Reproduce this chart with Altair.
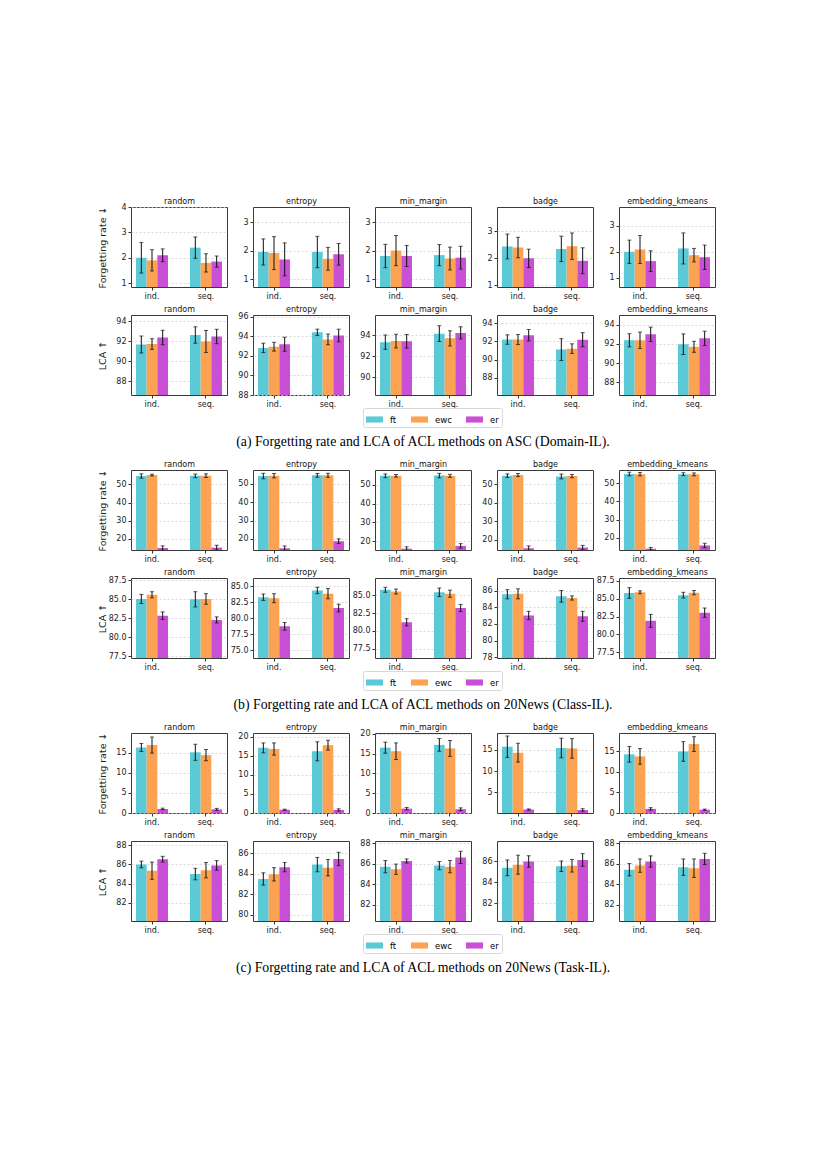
import altair as alt
import pandas as pd

strategies = ["random", "entropy", "min_margin", "badge", "embedding_kmeans"]
conditions = ["ind.", "seq."]
methods = ["ft", "ewc", "er"]
colors = ["#5CC9D6", "#FBA352", "#C94FD6"]

captions = [
    "(a) Forgetting rate and LCA of ACL methods on ASC (Domain-IL).",
    "(b) Forgetting rate and LCA of ACL methods on 20News (Class-IL).",
    "(c) Forgetting rate and LCA of ACL methods on 20News (Task-IL).",
]
row_titles = ["Forgetting rate \u2193", "LCA \u2191"]

# each row: [ind ft, ind ewc, ind er, seq ft, seq ewc, seq er]
asc_fr_mean = [
    [2.00, 1.90, 2.10, 2.40, 1.80, 1.85],
    [1.95, 1.91, 1.69, 1.95, 1.71, 1.87],
    [1.81, 2.00, 1.81, 1.84, 1.72, 1.75],
    [2.44, 2.40, 2.00, 2.35, 2.45, 1.91],
    [2.00, 2.09, 1.64, 2.13, 1.87, 1.79],
]
asc_fr_err = [
    [0.60, 0.42, 0.25, 0.42, 0.36, 0.22],
    [0.46, 0.58, 0.58, 0.55, 0.40, 0.38],
    [0.41, 0.53, 0.37, 0.37, 0.40, 0.40],
    [0.46, 0.38, 0.34, 0.47, 0.49, 0.48],
    [0.45, 0.54, 0.40, 0.60, 0.26, 0.47],
]
asc_lca_mean = [
    [91.65, 91.70, 92.35, 92.60, 91.95, 92.45],
    [92.83, 92.95, 93.20, 94.42, 93.70, 94.10],
    [93.32, 93.42, 93.40, 94.13, 93.68, 94.20],
    [92.20, 92.20, 92.68, 91.10, 91.20, 92.18],
    [92.38, 92.38, 93.00, 91.97, 91.70, 92.58],
]
asc_lca_err = [
    [0.85, 0.53, 0.72, 0.82, 1.10, 0.72],
    [0.48, 0.45, 0.72, 0.33, 0.55, 0.65],
    [0.68, 0.65, 0.65, 0.75, 0.72, 0.58],
    [0.52, 0.55, 0.63, 1.20, 0.53, 0.78],
    [0.68, 0.85, 0.74, 1.07, 0.57, 0.74],
]
cil_fr_mean = [
    [54.6, 55.1, 15.0, 54.7, 54.8, 15.2],
    [54.3, 54.5, 15.0, 54.7, 54.7, 18.8],
    [54.9, 54.9, 16.0, 55.0, 54.9, 17.5],
    [54.7, 55.1, 15.5, 54.3, 54.5, 15.8],
    [55.0, 54.9, 14.0, 54.9, 54.8, 15.8],
]
cil_fr_err = [
    [1.2, 0.5, 1.2, 1.0, 1.0, 1.3],
    [1.5, 1.2, 1.2, 1.0, 1.1, 1.3],
    [1.0, 0.7, 1.0, 1.2, 0.8, 1.2],
    [1.0, 0.8, 1.2, 1.3, 0.9, 1.2],
    [1.0, 0.9, 0.7, 0.8, 0.8, 1.2],
]
cil_lca_mean = [
    [85.05, 85.60, 82.85, 85.00, 85.05, 82.30],
    [83.30, 83.15, 78.75, 84.35, 83.85, 81.60],
    [85.75, 85.50, 81.20, 85.40, 85.20, 83.20],
    [85.55, 85.60, 83.00, 85.30, 85.10, 82.90],
    [85.80, 85.90, 81.90, 85.50, 85.85, 83.05],
]
cil_lca_err = [
    [0.60, 0.40, 0.50, 1.00, 0.70, 0.40],
    [0.50, 0.70, 0.60, 0.50, 0.80, 0.60],
    [0.35, 0.35, 0.50, 0.60, 0.50, 0.50],
    [0.55, 0.60, 0.50, 0.70, 0.25, 0.60],
    [0.75, 0.20, 0.90, 0.40, 0.30, 0.65],
]
til_fr_mean = [
    [16.3, 16.9, 1.00, 15.1, 14.4, 0.90],
    [17.1, 16.8, 0.85, 16.2, 17.8, 0.80],
    [16.5, 15.6, 1.10, 17.2, 16.3, 0.95],
    [15.7, 14.3, 1.00, 15.4, 15.3, 0.90],
    [14.3, 13.8, 1.00, 15.0, 16.8, 0.80],
]
til_fr_err = [
    [1.0, 2.0, 0.20, 2.0, 1.4, 0.25],
    [1.3, 1.6, 0.15, 2.5, 1.3, 0.30],
    [1.4, 2.1, 0.30, 1.6, 2.0, 0.35],
    [2.5, 2.2, 0.15, 2.3, 2.3, 0.30],
    [1.9, 1.9, 0.30, 2.4, 1.8, 0.15],
]
til_lca_mean = [
    [86.00, 85.35, 86.55, 85.00, 85.40, 85.90],
    [83.50, 83.95, 84.65, 84.90, 84.60, 85.45],
    [85.70, 85.45, 86.25, 85.80, 85.70, 86.60],
    [85.35, 85.65, 85.95, 85.50, 85.55, 86.10],
    [85.40, 85.80, 86.20, 85.65, 85.55, 86.45],
]
til_lca_err = [
    [0.35, 0.90, 0.30, 0.60, 0.80, 0.50],
    [0.60, 0.65, 0.45, 0.70, 0.80, 0.65],
    [0.60, 0.50, 0.20, 0.40, 0.60, 0.60],
    [0.75, 0.90, 0.55, 0.50, 0.60, 0.60],
    [0.60, 0.65, 0.55, 0.80, 0.90, 0.55],
]

# y-axis ranges and tick labels per panel
asc_fr_domain = [[0.85, 4.0], [0.72, 3.53], [0.72, 3.53], [0.94, 3.9], [0.64, 3.73]]
asc_fr_ticks = [[1, 2, 3, 4], [1, 2, 3], [1, 2, 3], [1, 2, 3], [1, 2, 3]]
asc_lca_domain = [[86.6, 94.6], [88.0, 96.2], [88.3, 95.9], [86.1, 94.9], [86.7, 95.0]]
asc_lca_ticks = [[88, 90, 92, 94], [88, 90, 92, 94, 96], [90, 92, 94], [88, 90, 92, 94], [88, 90, 92, 94]]
cil_fr_domain = [[13.9, 57.9], [14.0, 57.6], [15.3, 58.0], [14.5, 57.8], [13.3, 57.2]]
cil_fr_ticks = [[20, 30, 40, 50]] * 5
cil_lca_domain = [[77.3, 87.8], [73.8, 86.3], [76.2, 87.4], [77.9, 87.5], [76.7, 87.9]]
cil_lca_ticks = [[77.5, 80, 82.5, 85, 87.5], [75, 77.5, 80, 82.5, 85], [77.5, 80, 82.5, 85],
                 [78, 80, 82, 84, 86], [77.5, 80, 82.5, 85, 87.5]]
cil_lca_fmt = [".1f", ".1f", ".1f", "d", ".1f"]
til_fr_domain = [[0, 19.9], [0, 21.0], [0, 20.2], [0.2, 18.9], [0, 19.5]]
til_fr_ticks = [[0, 5, 10, 15], [0, 5, 10, 15, 20], [0, 5, 10, 15, 20], [5, 10, 15], [0, 5, 10, 15]]
til_lca_domain = [[80.1, 88.45], [79.4, 87.2], [80.4, 88.2], [80.3, 87.9], [80.4, 88.2]]
til_lca_ticks = [[82, 84, 86, 88], [80, 82, 84, 86], [82, 84, 86, 88], [82, 84, 86], [82, 84, 86, 88]]

W, H = 96, 80
FONT = "DejaVu Sans"

LEGEND = alt.Legend(orient="none", legendX=232, legendY=201,
                    direction="horizontal", title=None,
                    symbolType="M-1,-0.36H1V0.36H-1Z", symbolSize=289,
                    symbolStrokeWidth=0, labelFont=FONT, labelFontSize=8.5,
                    labelOffset=7, columnPadding=14, padding=3,
                    strokeColor="#d8d8d8", fillColor="white", cornerRadius=2)


def panel(means, errs, domain, ticks, fmt, title, ytitle):
    rows = []
    for ci, c in enumerate(conditions):
        for mi, m in enumerate(methods):
            v = means[ci * 3 + mi]
            e = errs[ci * 3 + mi]
            rows.append({"cond": c, "method": m, "value": v, "lo": v - e, "hi": v + e})
    df = pd.DataFrame(rows)
    yscale = alt.Scale(domain=domain, nice=False, zero=False)
    xscale = alt.Scale(paddingInner=0.407, paddingOuter=0.0925)
    yaxis = alt.Axis(values=ticks, format=fmt, title=ytitle, grid=True,
                     minExtent=22, maxExtent=22, titlePadding=2)
    x_bottom = alt.X("cond:N", sort=conditions, title=None, scale=xscale,
                     axis=alt.Axis(labelAngle=0, grid=False, minExtent=12, maxExtent=12))
    x_top = alt.X("cond:N", sort=conditions, title=title, scale=xscale,
                  axis=alt.Axis(orient="top", labels=False, ticks=False, domain=False,
                                grid=False, minExtent=0, maxExtent=0, titlePadding=2,
                                titleFontSize=8, titleFont=FONT,
                                titleFontWeight="normal", titleColor="#111"))
    x_plain = alt.X("cond:N", sort=conditions, scale=xscale, axis=None)
    base = alt.Chart(df).encode(
        xOffset=alt.XOffset("method:N", sort=methods,
                            scale=alt.Scale(paddingInner=0, paddingOuter=0)),
    )
    color = alt.Color("method:N", sort=methods,
                      scale=alt.Scale(domain=methods, range=colors), legend=LEGEND)
    bars = base.mark_bar(clip=True).encode(
        x=x_bottom, y=alt.Y("value:Q", scale=yscale, axis=yaxis), color=color)
    rules = base.mark_rule(color="#111", strokeWidth=1, clip=True).encode(
        x=x_top, y=alt.Y("lo:Q", scale=yscale, axis=yaxis), y2="hi:Q")
    cap_lo = base.mark_tick(color="#111", thickness=1, size=4, clip=True).encode(
        x=x_plain, y=alt.Y("lo:Q", scale=yscale, axis=yaxis))
    cap_hi = base.mark_tick(color="#111", thickness=1, size=4, clip=True).encode(
        x=x_plain, y=alt.Y("hi:Q", scale=yscale, axis=yaxis))
    return alt.layer(bars, rules, cap_lo, cap_hi).resolve_axis(
        x="independent").properties(width=W, height=H)


def row(means, errs, domains, ticks, fmts, ytitle):
    charts = []
    for i, s in enumerate(strategies):
        charts.append(panel(means[i], errs[i], domains[i], ticks[i], fmts[i], s,
                            ytitle if i == 0 else None))
    return alt.hconcat(*charts, spacing=26, bounds="flush")


groups = [
    (asc_fr_mean, asc_fr_err, asc_fr_domain, asc_fr_ticks, ["d"] * 5,
     asc_lca_mean, asc_lca_err, asc_lca_domain, asc_lca_ticks, ["d"] * 5),
    (cil_fr_mean, cil_fr_err, cil_fr_domain, cil_fr_ticks, ["d"] * 5,
     cil_lca_mean, cil_lca_err, cil_lca_domain, cil_lca_ticks, cil_lca_fmt),
    (til_fr_mean, til_fr_err, til_fr_domain, til_fr_ticks, ["d"] * 5,
     til_lca_mean, til_lca_err, til_lca_domain, til_lca_ticks, ["d"] * 5),
]

group_charts = []
for gi, g in enumerate(groups):
    r1 = row(g[0], g[1], g[2], g[3], g[4], row_titles[0])
    r2 = row(g[5], g[6], g[7], g[8], g[9], row_titles[1])
    gc = alt.vconcat(r1, r2, spacing=3,
                     title=alt.Title(captions[gi], orient="bottom", anchor="middle",
                                     font="Liberation Serif", fontSize=13.8,
                                     fontWeight="normal", color="black", offset=7,
                                     dx=17))
    group_charts.append(gc)

chart = alt.vconcat(*group_charts, spacing=10).resolve_legend(
    color="independent").properties(
    padding={"left": 88, "top": 188, "right": 5, "bottom": 5}
).configure_view(stroke="#3a3a3a", strokeWidth=1).configure_axis(
    labelFont=FONT, labelFontSize=8, labelColor="#222",
    titleFont=FONT, titleFontSize=9.5, titleFontWeight="normal", titleColor="#222",
    tickSize=3, tickColor="#333", domain=False, labelPadding=2,
    gridColor="#cfcfcf", gridDash=[2, 2], gridWidth=0.8,
)

chart.save("out.html", embed_options={"renderer": "svg", "actions": False})
